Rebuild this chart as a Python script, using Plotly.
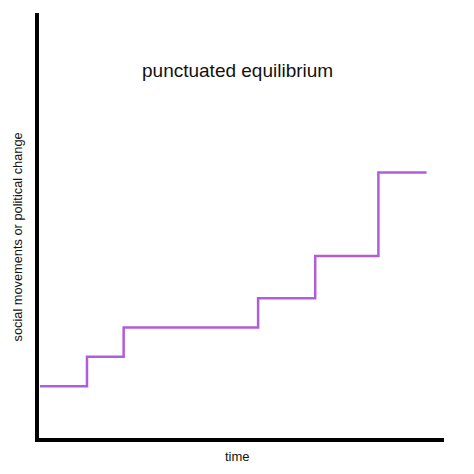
import plotly.graph_objects as go

# step breakpoints (time, level)
time_vals = [0.25, 11.85, 20.9, 54.1, 68.2, 83.8, 95.7]
level_vals = [12.2, 19.1, 26.0, 32.9, 42.8, 62.5, 62.5]

title_text = "punctuated equilibrium"
x_label = "time"
y_label = "social movements or political change"

fig = go.Figure()
fig.add_trace(go.Scatter(
    x=time_vals, y=level_vals, mode="lines", line_shape="hv",
    line=dict(color="#b15ddb", width=2.5), hoverinfo="skip", showlegend=False,
))

txt = dict(color="#111111")

# page has an 8px default body margin, so the figure is 466px and shifted
fig.update_layout(
    width=466, height=466,
    margin=dict(l=31, r=30, t=5, b=36),
    paper_bgcolor="white", plot_bgcolor="white",
    font=dict(family="Liberation Sans, Arial, sans-serif", color="#111111"),
    xaxis=dict(range=[0, 100], showgrid=False, zeroline=False, showticklabels=False,
               ticks="", showline=True, linecolor="black", linewidth=4, automargin=False),
    yaxis=dict(range=[0, 100], showgrid=False, zeroline=False, showticklabels=False,
               ticks="", showline=True, linecolor="black", linewidth=4, automargin=False),
    annotations=[
        dict(text=title_text, x=0.489, y=0.864, xref="paper", yref="paper",
             showarrow=False, font=dict(size=19, **txt),
             xanchor="center", yanchor="middle"),
        dict(text=x_label, x=0.489, y=-0.0447, xref="paper", yref="paper",
             showarrow=False, font=dict(size=13, **txt),
             xanchor="center", yanchor="middle"),
        dict(text=y_label, x=-0.052, y=0.474, xref="paper", yref="paper",
             showarrow=False, textangle=-90, font=dict(size=12.8, **txt),
             xanchor="center", yanchor="middle"),
    ],
)

fig.write_html("out.html")
